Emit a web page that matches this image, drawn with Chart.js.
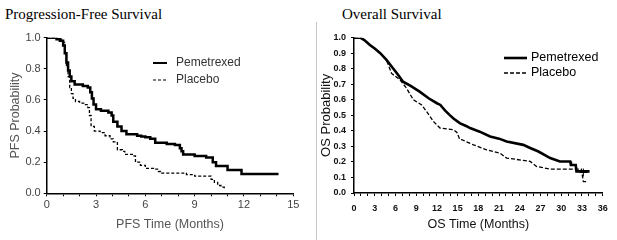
<!DOCTYPE html>
<html>
<head>
<meta charset="utf-8">
<script src="https://cdn.jsdelivr.net/npm/chart.js@4.4.1/dist/chart.umd.min.js"></script>
<style>
  body { margin: 0; background: #fff; width: 617px; height: 240px; position: relative; overflow: hidden; }
  .ttl { position: absolute; top: 7px; font: 15px "Liberation Serif", "Times New Roman", serif; line-height: 15px; color: #000; white-space: nowrap; }
  #pfsBox { position: absolute; left: 0; top: 22px; width: 306px; height: 218px; }
  #osBox { position: absolute; left: 318px; top: 22px; width: 299px; height: 218px; }
  #divider { position: absolute; left: 316px; top: 22px; width: 1px; height: 218px; background: #c8c8c8; }
</style>
</head>
<body>
<div class="ttl" style="left:5px">Progression-Free Survival</div>
<div class="ttl" style="left:342px">Overall Survival</div>
<div id="divider"></div>
<div id="pfsBox"><canvas id="pfsCanvas"></canvas></div>
<div id="osBox"><canvas id="osCanvas"></canvas></div>

<script>
"use strict"

//PFS - times (months) where the KM estimate changes, and the new value
const pfsPemTime = [0, 0.6, 0.8, 1.0, 1.1, 1.2, 1.3, 1.4, 1.5, 1.7, 2.2, 2.5, 2.65, 2.75, 2.85, 3.0, 3.3, 3.75, 3.95, 4.05, 4.3, 4.55, 4.85, 5.5, 5.75, 6.0, 6.3, 6.6, 7.3, 7.8, 8.1, 8.2, 8.3, 9.0, 9.7, 10.1, 10.3, 11.0, 11.85, 14.1];
const pfsPemProb = [1.0, 0.99, 0.98, 0.95, 0.90, 0.84, 0.79, 0.75, 0.72, 0.70, 0.69, 0.68, 0.65, 0.61, 0.57, 0.54, 0.53, 0.52, 0.50, 0.46, 0.43, 0.40, 0.38, 0.37, 0.365, 0.36, 0.35, 0.325, 0.317, 0.31, 0.29, 0.27, 0.25, 0.24, 0.23, 0.20, 0.175, 0.15, 0.124, 0.124];

const pfsPlaTime = [0, 0.6, 0.9, 1.1, 1.2, 1.3, 1.4, 1.5, 1.6, 1.75, 2.0, 2.3, 2.5, 2.6, 2.7, 2.9, 3.25, 3.55, 3.85, 4.05, 4.3, 4.6, 4.75, 5.3, 5.4, 5.7, 6.0, 6.5, 6.8, 7.0, 8.5, 9.0, 10.0, 10.2, 10.4, 10.6, 10.8];
const pfsPlaProb = [1.0, 0.99, 0.97, 0.90, 0.82, 0.75, 0.68, 0.64, 0.61, 0.59, 0.58, 0.57, 0.55, 0.50, 0.43, 0.40, 0.39, 0.37, 0.35, 0.33, 0.28, 0.27, 0.25, 0.24, 0.20, 0.18, 0.16, 0.155, 0.14, 0.13, 0.12, 0.11, 0.09, 0.07, 0.05, 0.04, 0.03];

//OS
const osPemTime = [0, 0.9, 1.5, 2.3, 3.0, 3.8, 4.7, 5.7, 6.4, 7.1, 8.2, 9.5, 10.8, 12.0, 12.5, 13.2, 13.9, 14.4, 15.3, 16.3, 16.8, 18.2, 19.7, 21.0, 22.1, 24.5, 25.5, 26.7, 28.4, 29.8, 31.3, 31.4, 32.1, 32.2, 34.1];
const osPemProb = [1.0, 1.0, 0.985, 0.953, 0.93, 0.90, 0.857, 0.80, 0.76, 0.717, 0.69, 0.653, 0.61, 0.578, 0.567, 0.53, 0.50, 0.48, 0.45, 0.43, 0.418, 0.395, 0.364, 0.35, 0.332, 0.31, 0.29, 0.267, 0.225, 0.203, 0.203, 0.18, 0.18, 0.139, 0.139];

const osPlaTime = [0, 0.9, 1.5, 2.3, 3.0, 3.8, 4.7, 4.97, 5.45, 6.66, 7.6, 8.6, 9.8, 10.5, 11.5, 12.45, 14.4, 14.9, 15.3, 15.6, 17.3, 19.2, 21.1, 22.1, 24.5, 25.5, 26.4, 28.4, 32.9, 33.2, 33.7];
const osPlaProb = [1.0, 1.0, 0.985, 0.953, 0.93, 0.90, 0.857, 0.825, 0.77, 0.728, 0.675, 0.60, 0.567, 0.525, 0.46, 0.418, 0.407, 0.39, 0.345, 0.343, 0.31, 0.278, 0.257, 0.225, 0.21, 0.203, 0.171, 0.154, 0.154, 0.073, 0.073];

//censored mark near the end of the OS curve
const osCensorTime = [33.2];
const osCensorProb = [0.132];

const legendNames = ["Pemetrexed", "Placebo"];


function toPoints(times, probs) {
    return times.map((t, i) => ({ x: t, y: probs[i] }));
}


//draws the legend inside the plot like the original figure
const kmLegend = {
    id: 'kmLegend',
    afterDraw(chart, args, opts) {
        const ctx = chart.ctx;
        ctx.save();
        ctx.font = opts.font;
        ctx.fillStyle = opts.color;
        ctx.textBaseline = 'middle';
        chart.data.datasets.forEach((ds, i) => {
            if (!ds.label) return;
            const y = opts.y + i * opts.gap;
            ctx.beginPath();
            ctx.setLineDash(ds.borderDash || []);
            ctx.lineWidth = opts.lineWidths[i];
            ctx.strokeStyle = ds.borderColor;
            ctx.moveTo(opts.x, y);
            ctx.lineTo(opts.x + opts.len, y);
            ctx.stroke();
            ctx.setLineDash([]);
            ctx.fillText(ds.label, opts.x + opts.len + opts.textGap, y);
        });
        ctx.restore();
    }
};


function makeScales(o) {
    return {
        x: {
            type: 'linear', min: 0, max: o.xMax,
            afterFit: s => { s.height = o.xHeight; },
            ticks: {
                stepSize: 1, autoSkip: false, maxRotation: 0, padding: o.xPad,
                color: o.tickColor, font: o.tickFont,
                callback: v => (v % 3 === 0 ? v : '')
            },
            grid: { drawOnChartArea: false, tickLength: 3, color: '#000', lineWidth: 1 },
            border: { color: '#000', width: 1.5 },
            title: { display: true, text: o.xTitle, color: o.titleColor, font: o.xTitleFont, padding: { top: 0, bottom: o.xTitlePad } }
        },
        y: {
            type: 'linear', min: 0, max: 1,
            afterFit: s => { s.width = o.yWidth; },
            ticks: {
                stepSize: 0.1, padding: o.yPad,
                color: o.tickColor, font: o.tickFont,
                callback: v => v.toFixed(1)
            },
            grid: { drawOnChartArea: false, tickLength: 3, color: '#000', lineWidth: 1 },
            border: { color: '#000', width: 1.5 },
            title: { display: true, text: o.yTitle, color: o.titleColor, font: o.yTitleFont, padding: { top: o.yTitlePad, bottom: 0 } }
        }
    };
}


//PFS chart
new Chart(document.getElementById('pfsCanvas'), {
    type: 'line',
    data: {
        datasets: [
            { label: legendNames[0], data: toPoints(pfsPemTime, pfsPemProb), borderColor: '#000', borderWidth: 2.5, stepped: 'before', pointRadius: 0 },
            { label: legendNames[1], data: toPoints(pfsPlaTime, pfsPlaProb), borderColor: '#000', borderWidth: 1.3, borderDash: [3, 2], stepped: 'before', pointRadius: 0 }
        ]
    },
    options: {
        responsive: true, maintainAspectRatio: false, animation: false,
        layout: { padding: { top: 15.7, right: 12.7, left: 0, bottom: 0 } },
        plugins: {
            legend: { display: false }, tooltip: { enabled: false },
            kmLegend: { x: 153, y: 41, gap: 17, len: 14, textGap: 9, lineWidths: [2, 1.2], font: '12px "Liberation Sans Narrow", "Liberation Sans", sans-serif', color: '#333' }
        },
        scales: makeScales({
            xMax: 15, xHeight: 46.7, yWidth: 46.7, xPad: 2, yPad: 3,
            tickColor: '#444', tickFont: { family: '"Liberation Sans", Arial, sans-serif', size: 11 },
            titleColor: '#555',
            xTitle: 'PFS Time (Months)', xTitleFont: { family: '"Liberation Sans Narrow", "Liberation Sans", sans-serif', size: 12.5 }, xTitlePad: 8,
            yTitle: 'PFS Probability', yTitleFont: { family: '"Liberation Sans", Arial, sans-serif', size: 12.5 }, yTitlePad: 8
        })
    },
    plugins: [kmLegend]
});


//OS chart
new Chart(document.getElementById('osCanvas'), {
    type: 'line',
    data: {
        datasets: [
            { label: legendNames[0], data: toPoints(osPemTime, osPemProb), borderColor: '#000', borderWidth: 2.6, pointRadius: 0 },
            { label: legendNames[1], data: toPoints(osPlaTime, osPlaProb), borderColor: '#000', borderWidth: 1.3, borderDash: [4, 2], pointRadius: 0 },
            { label: '', data: toPoints(osCensorTime, osCensorProb), showLine: false, pointStyle: 'cross', pointRadius: 4, borderColor: '#000', borderWidth: 1 }
        ]
    },
    options: {
        responsive: true, maintainAspectRatio: false, animation: false,
        layout: { padding: { top: 15.7, right: 14.3, left: 0, bottom: 0 } },
        plugins: {
            legend: { display: false }, tooltip: { enabled: false },
            kmLegend: { x: 186, y: 36, gap: 15, len: 23, textGap: 4, lineWidths: [2.6, 1.3], font: '12.5px "Liberation Sans Narrow", "Liberation Sans", sans-serif', color: '#000' }
        },
        scales: makeScales({
            xMax: 36, xHeight: 47, yWidth: 36, xPad: 7, yPad: 5,
            tickColor: '#111', tickFont: { family: '"Liberation Sans Narrow", "Liberation Sans", sans-serif', size: 9, weight: 'bold' },
            titleColor: '#111',
            xTitle: 'OS Time (Months)', xTitleFont: { family: '"Liberation Sans Narrow", "Liberation Sans", sans-serif', size: 12.5 }, xTitlePad: 8,
            yTitle: 'OS Probability', yTitleFont: { family: '"Liberation Sans", Arial, sans-serif', size: 13 }, yTitlePad: 1
        })
    },
    plugins: [kmLegend]
});
</script>
</body>
</html>
